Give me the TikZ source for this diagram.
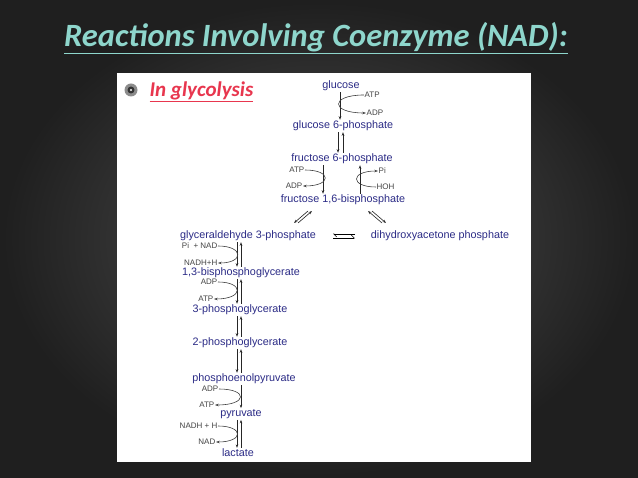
\documentclass[tikz,border=0pt]{standalone}
\usepackage{fontspec}
\setmainfont{Liberation Sans}
\newfontfamily\titlefont{Carlito}
\usetikzlibrary{arrows.meta,positioning}
\definecolor{titleteal}{HTML}{8ED6CC}
\definecolor{bulletred}{HTML}{E8364E}
\definecolor{pathblue}{HTML}{2B2B86}
\definecolor{cofgray}{HTML}{444444}
\tikzset{
  metab/.style={text=pathblue, inner sep=1pt, font=\fontsize{10.8}{12}\selectfont},
  cofac/.style={text=cofgray, inner sep=0.5pt, font=\fontsize{8}{9}\selectfont},
  rxn/.style={-{Stealth[length=3.5pt,width=2.5pt]}, line width=0.6pt, black!85},
  side/.style={-{Stealth[length=3.5pt,width=2.5pt]}, line width=0.6pt, black!75}
}
\begin{document}
\begin{tikzpicture}[x=1pt,y=-1pt]
\useasboundingbox (0,0) rectangle (638,478);
\shade[inner color=black!68, outer color=black!88] (0,0) rectangle (638,478);
% title
\node[text=titleteal, font=\titlefont\bfseries\itshape\fontsize{32.5}{36}\selectfont] (title) at (316,38) {\underline{Reactions Involving Coenzyme (NAD):}};
% white panel
\fill[white] (117,73) rectangle (531,462);
\fill[black!45] (131,90) circle (6.5);
\fill[black!80] (131,90) circle (3.5);
\fill[white] (131,90) circle (1.2);
\node[text=bulletred, anchor=west, font=\titlefont\bfseries\itshape\fontsize{21}{24}\selectfont] (head) at (146,92) {\underline{In glycolysis}};
% metabolites
\node[metab] (glc) at (341,86) {glucose};
\node[metab] (g6p) at (343,126) {glucose 6-phosphate};
\node[metab] (f6p) at (342,159) {fructose 6-phosphate};
\node[metab] (fbp) at (343,200) {fructose 1,6-bisphosphate};
\node[metab] (gap) at (248,236) {glyceraldehyde 3-phosphate};
\node[metab] (dhap) at (440,236) {dihydroxyacetone phosphate};
\node[metab] (bpg) at (241,273) {1,3-bisphosphoglycerate};
\node[metab] (pg3) at (240,310) {3-phosphoglycerate};
\node[metab] (pg2) at (240,343) {2-phosphoglycerate};
\node[metab] (pep) at (244,379) {phosphoenolpyruvate};
\node[metab] (pyr) at (241,414) {pyruvate};
\node[metab] (lac) at (238,453) {lactate};
% cofactors
\node[cofac, anchor=west] (atpA) at (364,95) {ATP};
\node[cofac, anchor=west] (adpA) at (366,113) {ADP};
\node[cofac, anchor=east] (atpB) at (305,170) {ATP};
\node[cofac, anchor=east] (adpB) at (303,186) {ADP};
\node[cofac, anchor=west] (pi) at (378,171) {Pi};
\node[cofac, anchor=west] (hoh) at (376,187) {HOH};
\node[cofac, anchor=east] (nadA) at (218,246) {Pi\ \ +\ NAD};
\node[cofac, anchor=east] (nadhA) at (218,263) {NADH+H};
\node[cofac, anchor=east] (adpC) at (218,282) {ADP};
\node[cofac, anchor=east] (atpC) at (214,299) {ATP};
\node[cofac, anchor=east] (adpD) at (219,389) {ADP};
\node[cofac, anchor=east] (atpD) at (215,405) {ATP};
\node[cofac, anchor=east] (nadhB) at (218,426) {NADH + H};
\node[cofac, anchor=east] (nadB) at (216,442) {NAD};
% columns
\coordinate (u1) at (340,0);
\coordinate (u2) at (338,0);
\coordinate (u3) at (343,0);
\coordinate (u4) at (323,0);
\coordinate (u5) at (360,0);
\coordinate (d1) at (237,0);
\coordinate (d2) at (241,0);
% upper part
\draw[rxn] (glc.south -| u1) -- (g6p.north -| u1);
\draw[side] (atpA.west) .. controls (330,95) and (330,113) .. (adpA.west);
\draw[rxn] (g6p.south -| u2) -- (f6p.north -| u2);
\draw[rxn] (f6p.north -| u3) -- (g6p.south -| u3);
\draw[rxn] (f6p.south -| u4) -- (fbp.north -| u4);
\draw[side] (atpB.east) .. controls (332,170) and (332,186) .. (adpB.east);
\draw[rxn] (fbp.north -| u5) -- (f6p.south -| u5);
\draw[side] (hoh.west) .. controls (350,187) and (350,171) .. (pi.west);
% cleavage
\coordinate (la) at (310,211);
\coordinate (lb) at (296,223);
\coordinate (ra) at (370,211);
\coordinate (rb) at (384,223);
\draw[rxn] ([xshift=-2pt]la) -- ([xshift=-2pt]lb);
\draw[rxn] ([xshift=2pt]lb) -- ([xshift=2pt]la);
\draw[rxn] ([xshift=-2pt]rb) -- ([xshift=-2pt]ra);
\draw[rxn] ([xshift=2pt]ra) -- ([xshift=2pt]rb);
\coordinate (hl) at (333,236);
\coordinate (hr) at (355,236);
\draw[line width=0.6pt, -{Straight Barb[left, length=3pt]}] ([yshift=-2pt]hl) -- ([yshift=-2pt]hr);
\draw[line width=0.6pt, -{Straight Barb[left, length=3pt]}] ([yshift=2pt]hr) -- ([yshift=2pt]hl);
% lower part
\draw[rxn] (gap.south -| d1) -- (bpg.north -| d1);
\draw[rxn] (bpg.north -| d2) -- (gap.south -| d2);
\draw[side] (nadA.east) .. controls (244,246) and (244,263) .. (nadhA.east);
\draw[rxn] (bpg.south -| d1) -- (pg3.north -| d1);
\draw[rxn] (pg3.north -| d2) -- (bpg.south -| d2);
\draw[side] (adpC.east) .. controls (244,282) and (244,299) .. (atpC.east);
\draw[rxn] (pg3.south -| d1) -- (pg2.north -| d1);
\draw[rxn] (pg2.north -| d2) -- (pg3.south -| d2);
\draw[rxn] (pg2.south -| d1) -- (pep.north -| d1);
\draw[rxn] (pep.north -| d2) -- (pg2.south -| d2);
\draw[rxn] (pep.south -| d2) -- (pyr.north -| d2);
\draw[side] (adpD.east) .. controls (248,389) and (248,405) .. (atpD.east);
\draw[rxn] (pyr.south -| d1) -- (lac.north -| d1);
\draw[rxn] (lac.north -| d2) -- (pyr.south -| d2);
\draw[side] (nadhB.east) .. controls (244,426) and (244,442) .. (nadB.east);
\end{tikzpicture}
\end{document}
